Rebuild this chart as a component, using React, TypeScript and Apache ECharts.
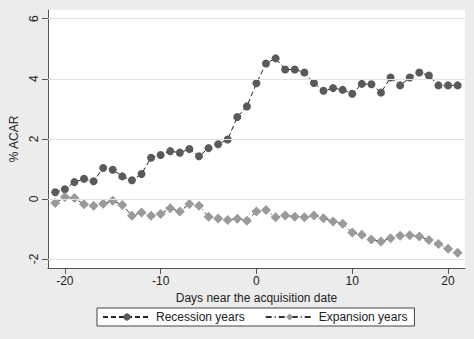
import React, { useEffect, useRef } from "react";
import * as echarts from "echarts";

const days = [-21,-20,-19,-18,-17,-16,-15,-14,-13,-12,-11,-10,-9,-8,-7,-6,-5,-4,-3,-2,-1,0,1,2,3,4,5,6,7,8,9,10,11,12,13,14,15,16,17,18,19,20,21];
const recession = [0.22,0.32,0.56,0.67,0.59,1.03,0.97,0.75,0.62,0.83,1.37,1.46,1.59,1.54,1.66,1.42,1.69,1.82,1.98,2.73,3.08,3.85,4.51,4.68,4.31,4.31,4.21,3.86,3.6,3.69,3.63,3.5,3.83,3.82,3.54,4.04,3.78,4.04,4.21,4.11,3.78,3.78,3.78];
const expansion = [-0.14,0.06,0.03,-0.18,-0.23,-0.16,-0.06,-0.2,-0.56,-0.45,-0.56,-0.5,-0.31,-0.42,-0.17,-0.23,-0.59,-0.65,-0.7,-0.66,-0.73,-0.42,-0.37,-0.61,-0.55,-0.59,-0.61,-0.55,-0.64,-0.75,-0.83,-1.12,-1.19,-1.35,-1.42,-1.31,-1.23,-1.21,-1.25,-1.37,-1.5,-1.66,-1.79];
const xTicks = [-20, -10, 0, 10, 20];
const yTicks = [-2, 0, 2, 4, 6];

const FONT = "'Liberation Sans', Arial, sans-serif";

export default function App() {
  const ref = useRef<HTMLDivElement>(null);
  useEffect(() => {
    if (!ref.current) return;
    const chart = echarts.init(ref.current, null, { renderer: "svg" });
    chart.setOption({
      animation: false,
      backgroundColor: "#ececec",
      textStyle: { fontFamily: FONT },
      grid: {
        left: 46,
        top: 10,
        right: 9,
        bottom: 71,
        show: true,
        backgroundColor: "#ffffff",
        borderWidth: 0,
      },
      xAxis: {
        type: "value",
        min: -21.77,
        max: 21.77,
        name: "Days near the acquisition date",
        nameLocation: "middle",
        nameGap: 20,
        nameTextStyle: { fontSize: 12, color: "#222", fontFamily: FONT },
        axisLine: { show: true, onZero: false, lineStyle: { color: "#555", width: 1 } },
        axisTick: { show: true, length: 6, customValues: xTicks, lineStyle: { color: "#555" } },
        axisLabel: { customValues: xTicks, fontSize: 12, color: "#222", margin: 7, fontFamily: FONT },
        splitLine: { show: false },
      },
      yAxis: {
        type: "value",
        min: -2.3,
        max: 6.29,
        name: "% ACAR",
        nameLocation: "middle",
        nameGap: 19,
        nameTextStyle: { fontSize: 12, color: "#222", fontFamily: FONT },
        axisLine: { show: true, onZero: false, lineStyle: { color: "#555", width: 1 } },
        axisTick: { show: true, length: 6, customValues: yTicks, lineStyle: { color: "#555" } },
        axisLabel: { customValues: yTicks, fontSize: 12, color: "#222", margin: 8, rotate: 90, fontFamily: FONT },
        splitLine: { show: false },
      },
      legend: {
        left: 97,
        top: 308,
        padding: [3, 7, 3, 5],
        itemGap: 20,
        itemWidth: 48,
        itemHeight: 9,
        backgroundColor: "#ffffff",
        borderColor: "#444",
        borderWidth: 1,
        borderRadius: 0,
        textStyle: { fontSize: 12, color: "#222", fontFamily: FONT },
        data: ["Recession years", "Expansion years"],
      },
      series: [
        {
          name: "grid",
          type: "line",
          data: [],
          z: 1,
          silent: true,
          markLine: {
            silent: true,
            symbol: "none",
            label: { show: false },
            lineStyle: { color: "#e2e2e2", width: 1, type: "solid" },
            data: yTicks.map((v) => ({ yAxis: v })),
          },
        },
        {
          name: "Recession years",
          type: "line",
          z: 3,
          data: days.map((d, i) => [d, recession[i]]),
          symbol: "circle",
          symbolSize: 8,
          itemStyle: { color: "#5a5a5a" },
          lineStyle: { color: "#222", width: 1, type: [5, 3] },
        },
        {
          name: "Expansion years",
          type: "line",
          z: 3,
          data: days.map((d, i) => [d, expansion[i]]),
          symbol: "diamond",
          symbolSize: 10,
          itemStyle: { color: "#9a9a9a" },
          lineStyle: { color: "#333", width: 1, type: [6, 3, 1, 3] },
        },
      ],
    });
    return () => chart.dispose();
  }, []);
  return (
    <div
      ref={ref}
      style={{ position: "absolute", left: 0, top: 0, width: 474, height: 339 }}
    />
  );
}
